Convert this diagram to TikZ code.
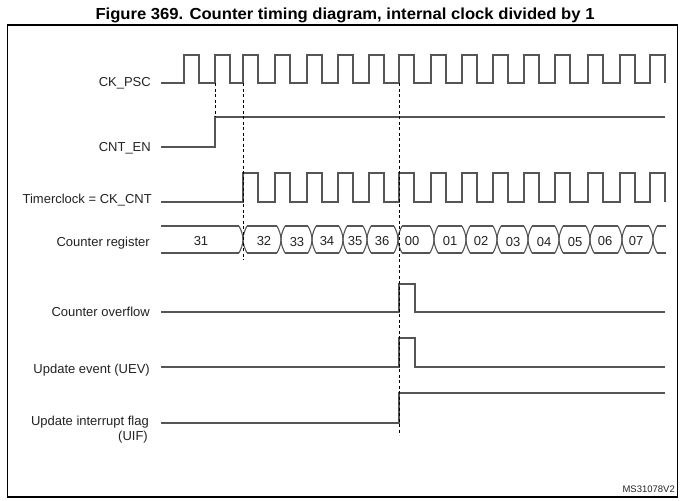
\documentclass[tikz,border=0pt]{standalone}
\usepackage{fontspec}
\setmainfont{Liberation Sans}
\definecolor{sigcol}{RGB}{85,85,85}
\definecolor{txtcol}{RGB}{35,35,35}
\begin{document}
\begin{tikzpicture}[x=1pt,y=-1pt,
  sig/.style={draw=sigcol, line width=1.1pt, line join=miter},
  guide/.style={draw=black, line width=0.9pt, dash pattern=on 3pt off 2.5pt},
  lab/.style={anchor=base east, inner sep=0pt, font=\fontsize{13}{15}\selectfont, text=txtcol},
  val/.style={anchor=base, inner sep=0pt, font=\fontsize{13}{15}\selectfont, text=txtcol}]
\useasboundingbox (0,0) rectangle (689,501);
\fill[white] (0,0) rectangle (689,501);
\draw[line width=1.2pt] (7.5,25) rectangle (677.5,497);
\node[inner sep=0pt, anchor=base] (title) at (345,19.5)
  {\scalebox{1.04}[1]{\bfseries\fontsize{16}{18}\selectfont Figure 369. Counter timing diagram, internal clock divided by 1}};

% labels
\node[lab] (lpsc) at (151,86) {CK\_PSC};
\node[lab] (len) at (151,151.5) {CNT\_EN};
\node[lab] (lcnt) at (152,203) {Timerclock = CK\_CNT};
\node[lab] (lreg) at (150,246) {Counter register};
\node[lab] (lovf) at (150,316) {Counter overflow};
\node[lab] (luev) at (150,373) {Update event (UEV)};
\node[lab] (luif) at (149,425) {Update interrupt flag};
\node[lab] (luif2) at (148,440) {(UIF)};
\node[anchor=base east, inner sep=0pt, font=\fontsize{9.5}{11}\selectfont, text=txtcol] (ref) at (675,492) {MS31078V2};

% CK_PSC
\draw[sig] (161,83) \foreach \r in {184,215,243,275,307,338,369,399,431,462,493,524,555,588,620,650}
  { -- (\r,83) -- (\r,55) -- (\r+15,55) -- (\r+15,83) };
% CNT_EN
\draw[sig] (161,147) -- (215,147) -- (215,117) -- (665,117);
% Timerclock
\draw[sig] (161,202) \foreach \r in {243,275,307,338,369,399,431,462,493,524,555,588,620,650}
  { -- (\r,202) -- (\r,173) -- (\r+15,173) -- (\r+15,202) };

% Counter register
\foreach \t [remember=\t as \p (initially 157)] in {243,281,312,343,367,398,434,466,497,528,559,590,622,653} {
  \draw[sig] (\p+4,226) -- (\t-4,226);
  \draw[sig] (\p+4,253) -- (\t-4,253);
  \draw[sig] (\t-4,226) .. controls (\t-2.5,229) and (\t,234) .. (\t,239.5) .. controls (\t,245) and (\t-2.5,250) .. (\t-4,253);
  \draw[sig] (\t+4,226) .. controls (\t+2.5,229) and (\t,234) .. (\t,239.5) .. controls (\t,245) and (\t+2.5,250) .. (\t+4,253);
}
\draw[sig] (657,226) -- (666,226);
\draw[sig] (657,253) -- (666,253);
\node[val] (v31) at (201,245) {31};
\node[val] (v32) at (264,245) {32};
\node[val] (v33) at (297,246) {33};
\node[val] (v34) at (327,245) {34};
\node[val] (v35) at (355,245) {35};
\node[val] (v36) at (382,245) {36};
\node[val] (v00) at (412,245) {00};
\node[val] (v01) at (450,245) {01};
\node[val] (v02) at (481,245) {02};
\node[val] (v03) at (513,246) {03};
\node[val] (v04) at (544,246) {04};
\node[val] (v05) at (575,246) {05};
\node[val] (v06) at (605,245) {06};
\node[val] (v07) at (636,245) {07};

% Counter overflow
\draw[sig] (161,312) -- (399,312) -- (399,284) -- (415,284) -- (415,312) -- (665,312);
% UEV
\draw[sig] (161,367) -- (399,367) -- (399,338) -- (415,338) -- (415,367) -- (665,367);
% UIF
\draw[sig] (161,423) -- (399,423) -- (399,393) -- (665,393);

% dashed guides
\coordinate (g1a) at (215,83); \coordinate (g1b) at (215,117);
\coordinate (g2a) at (243,83); \coordinate (g2b) at (243,260);
\coordinate (g3a) at (399,83); \coordinate (g3b) at (399,435);
\draw[guide] (g1a) -- (g1b);
\draw[guide] (g2a) -- (g2b);
\draw[guide] (g3a) -- (g3b);
\end{tikzpicture}
\end{document}
